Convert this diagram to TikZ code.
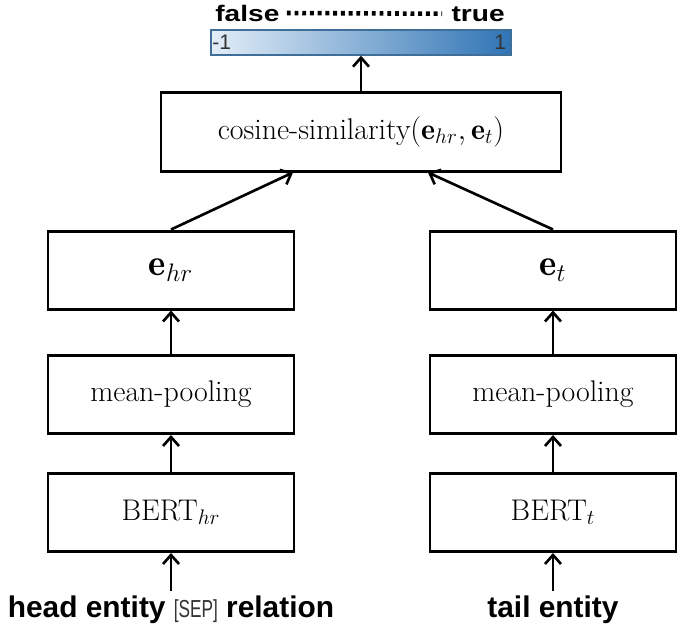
\documentclass[tikz,border=0pt]{standalone}
\usepackage{fontspec}
\newfontfamily\labelfont{Liberation Sans}
\usepackage{graphicx}
\usepackage{tikz}
\usetikzlibrary{arrows.meta}
\definecolor{barlight}{HTML}{E2EDF7}
\definecolor{bardark}{HTML}{2F74B5}
\definecolor{barline}{HTML}{3F6E98}
\definecolor{septext}{HTML}{333333}

\begin{document}
\begin{tikzpicture}[font=\fontsize{17}{20}\selectfont,
    box/.style={draw, line width=1.7pt, minimum width=4.92cm, minimum height=1.56cm},
    arr/.style={line width=1.5pt, -{Straight Barb[length=1.8mm,width=3.2mm]}},
    inlabel/.style={font=\labelfont\bfseries\fontsize{17}{20}\selectfont, inner sep=2pt}]

      \useasboundingbox (0,0) rectangle (13.7,-12.6);

      % score bar
      \node[draw=barline, line width=0.8pt, left color=barlight, right color=bardark,
            minimum width=6cm, minimum height=0.5cm, inner sep=0pt] (bar) at (7.22,-0.85) {};
      \node[anchor=west, inner sep=1pt, text=septext, font=\labelfont\fontsize{12}{13}\selectfont] (lowval) at (bar.west) {-1};
      \node[anchor=east, inner sep=3pt, text=septext, font=\labelfont\fontsize{12}{13}\selectfont] (highval) at (bar.east) {1};
      \node[anchor=base west, inner sep=0pt, font=\labelfont\bfseries\fontsize{16}{18}\selectfont] (falsetxt) at (4.3,-0.42) {\scalebox{1}[0.8]{false}};
      \node[anchor=base east, inner sep=0pt, font=\labelfont\bfseries\fontsize{16}{18}\selectfont] (truetxt) at (10.1,-0.42) {\scalebox{1}[0.8]{true}};
      \draw[line width=2.6pt, dash pattern=on 2.2pt off 2.2pt, shorten <=0.14cm, shorten >=0.18cm] (falsetxt.east) -- (truetxt.west);

      % similarity
      \node[box, minimum width=8cm, minimum height=1.58cm] (cos) at (7.22,-2.63) {cosine-similarity$(\mathbf{e}_{hr}, \mathbf{e}_{t})$};

      % head + relation side
      \node[box, font=\fontsize{21}{24}\selectfont] (ehr) at (3.42,-5.4) {$\mathbf{e}_{hr}$};
      \node[box] (poolhr) at (3.42,-7.89) {mean-pooling};
      \node[box] (berthr) at (3.42,-10.25) {BERT$_{hr}$};
      \node[inlabel, anchor=base] (headin) at (3.42,-12.34) {head entity {\mdseries\color{septext}\fontsize{14}{15}\selectfont\scalebox{0.7}[1]{[SEP]}} relation};

      % tail side
      \node[box, font=\fontsize{21}{24}\selectfont] (et) at (11.06,-5.4) {$\mathbf{e}_{t}$};
      \node[box] (poolt) at (11.06,-7.89) {mean-pooling};
      \node[box] (bertt) at (11.06,-10.25) {BERT$_{t}$};
      \node[inlabel, anchor=base] (tailin) at (11.06,-12.34) {tail entity};

      % arrows
      \draw[arr] (headin) -- (berthr);
      \draw[arr] (berthr) -- (poolhr);
      \draw[arr] (poolhr) -- (ehr);
      \draw[arr] (tailin) -- (bertt);
      \draw[arr] (bertt) -- (poolt);
      \draw[arr] (poolt) -- (et);
      \draw[arr] (ehr.north) -- ([xshift=-1.36cm]cos.south);
      \draw[arr] (et.north) -- ([xshift=1.34cm]cos.south);
      \draw[arr] (cos) -- (bar);

    \end{tikzpicture}
\end{document}
